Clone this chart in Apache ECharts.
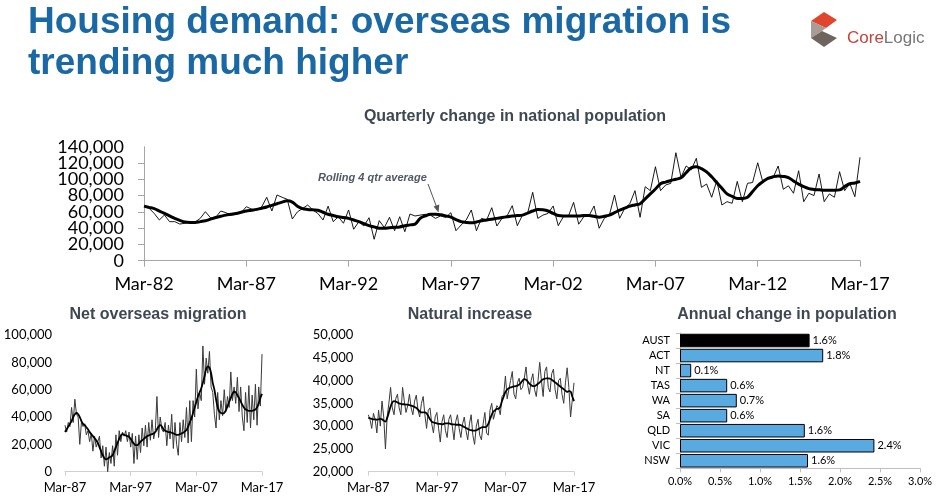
<!DOCTYPE html>
<html><head><meta charset="utf-8">
<script src="https://cdn.jsdelivr.net/npm/echarts@6/dist/echarts.min.js"></script>
<style>html,body{margin:0;padding:0;background:#fff}#c{width:944px;height:498px}</style>
</head><body><div id="c"></div><script>
// ---------- DATA ----------
const mainTitle1 = 'Housing demand: overseas migration is';
const mainTitle2 = 'trending much higher';
const topTitle = 'Quarterly change in national population';
const nomTitle = 'Net overseas migration';
const niTitle = 'Natural increase';
const barTitle = 'Annual change in population';
const annotation = 'Rolling 4 qtr average';

function quarters(y0, y1) {
  const m = ['Mar', 'Jun', 'Sep', 'Dec'], out = [];
  for (let y = y0; y <= y1; y++) for (let k = 0; k < 4; k++) {
    if (y === y1 && k > 0) break;
    out.push(m[k] + '-' + String(y % 100).padStart(2, '0'));
  }
  return out;
}
const topCats = quarters(1982, 2017);   // Mar-82 .. Mar-17
const botCats = quarters(1987, 2017);   // Mar-87 .. Mar-17

const topRaw = [
 67000,64300,58000,50000,56100,47900,48000,45000,46000,47000,
 47500,52000,60200,52800,53000,61000,59000,56000,57000,59000,
 66300,63500,62000,66000,77900,61000,80700,77900,75400,51200,
 60000,64000,68400,62300,58000,50000,67000,47900,54000,46000,
 62300,38600,47900,42600,52800,26300,49200,40700,53300,36800,
 54000,35600,57300,54900,56000,57000,56000,52000,55000,53000,
 59000,36800,43800,50000,62300,36800,52000,50000,65100,42600,
 52000,55000,67600,43000,56000,58000,84000,52000,56000,58000,
 67200,43000,54000,55000,71700,44800,54000,55000,67200,39800,
 52000,56000,80700,52000,64300,70000,86000,53300,90900,86000,
 115400,86000,93000,95000,132600,102400,116300,111600,125700,90100,
 94200,77900,98300,68400,72500,70500,97400,72500,95000,96000,
 120300,96600,100700,102000,116300,87700,92000,82800,110500,72500,
 82800,80000,106500,72500,82000,77900,109300,86000,95000,78600,
 127000];
const topTrend = [
 67000,65500,64000,61000,58000,55000,52000,49500,47500,47000,
 47000,48000,49000,51000,53000,54500,56000,57000,58000,59500,
 61000,62000,63000,64500,66000,68000,70000,72000,73500,72000,
 67000,64000,63000,62500,62000,59500,57000,55500,54000,53000,
 52000,50000,48000,45500,43000,41500,40000,40000,40500,41000,
 41500,43000,44000,45000,52000,55000,57000,57000,56500,55000,
 53500,50500,48000,47000,46500,47500,49000,50000,51000,52000,
 53000,54000,55000,55500,56000,58500,61000,63000,62500,61000,
 58000,55500,55000,55000,55000,55000,55500,55500,54500,53500,
 54500,56000,59000,62000,64500,67000,68500,70000,76000,82000,
 88000,94500,96500,98500,100000,102000,108000,114000,115500,113000,
 109000,103000,96000,89000,82000,79000,76500,76500,78000,85000,
 92000,97000,101000,103000,104000,103500,102000,98000,94000,91000,
 88500,87500,87000,86500,86500,86500,87000,91000,94500,95500,
 97500];

const nomRaw = [
 34000,29000,36000,33000,47000,36000,53000,42000,40000,20000,
 36000,33000,35000,27000,30000,22000,28000,15000,26000,18000,
 17000,26000,10000,19000,4000,18000,0,14000,6000,19000,
 4000,27000,12000,30000,22000,29000,26000,30000,22000,29000,
 18000,28000,6000,26000,9000,27000,14000,32000,19000,34000,
 18000,36000,23000,38000,24000,30000,55000,25000,40000,31000,
 29000,36000,19000,34000,24000,42000,17000,36000,20000,12000,
 36000,22000,38000,25000,47000,21000,52000,22000,52000,40000,
 75000,46000,58000,52000,92000,64000,83000,72000,88000,62000,
 58000,42000,32000,58000,38000,52000,41000,60000,44000,55000,
 47000,73000,52000,62000,50000,69000,44000,62000,40000,30000,
 58000,36000,63000,32000,56000,38000,64000,34000,62000,48000,
 86000];
const nomTrend = [
 29000,31000,33000,35000,37000,40000,42000,43000,42000,40000,
 37000,35000,34000,32500,31000,29000,27500,26000,24500,23000,
 21000,18000,15000,12000,10000,9000,9500,10500,11000,12000,
 15000,18000,21000,24000,26500,27500,27000,26500,26000,25500,
 24000,22000,20500,19500,19500,20500,22000,23000,24000,25000,
 26000,26500,27000,27500,28000,29000,31000,33000,34000,33000,
 31000,30000,29500,29000,29000,28500,28000,27500,27000,27000,
 27500,28000,28500,29500,30500,33000,36000,39000,43000,47000,
 51000,55000,58000,61000,65000,70000,75000,77000,76000,72000,
 65000,60000,53000,47000,44000,43000,42500,43000,45000,48000,
 51000,54000,57000,58500,58000,56000,54000,51500,49000,47000,
 45500,45000,44500,44500,44500,45000,45500,47000,50000,54000,
 57000];

const niRaw = [
 32500,31500,29500,32800,31500,28500,33500,30000,35500,32000,
 25000,32000,35000,38500,34000,32500,36000,37000,34000,32500,
 38500,35500,33000,34500,37000,34000,32500,35500,36800,33500,
 32000,35000,36500,32500,29500,33500,34000,30500,28500,32000,
 33000,29500,26500,31000,32500,29000,27500,31500,32500,30000,
 27000,31000,32500,29500,27500,30500,32000,29000,27000,30500,
 32500,28000,26000,30000,31500,28000,27000,30500,33000,28500,
 28000,33500,35000,31500,33000,34500,34000,32500,36500,37000,
 41000,36000,38000,40000,42000,37000,36000,39500,40500,38000,
 38500,40500,43000,39000,37000,40000,41500,38000,36500,40000,
 44000,40000,36500,42000,43000,38500,37500,41500,42500,38000,
 36000,40000,40500,37000,35000,39500,42800,38500,32000,32000,
 39500];
const niTrend = [
 31800,31700,31600,31500,31500,31400,31500,31600,31500,31200,
 31000,31800,33000,34300,35200,35500,35400,35200,35000,34900,
 34800,34800,34700,34700,34600,34500,34400,34200,34000,33600,
 33200,33000,33000,33000,32800,32200,31500,31000,30800,30700,
 30600,30500,30500,30400,30500,30600,30600,30600,30500,30400,
 30400,30300,30300,30300,30200,30000,29800,29600,29400,29200,
 29100,29000,29000,29100,29300,29500,29700,29800,29800,29900,
 30500,31500,32500,33200,33500,33800,33800,34300,35500,36500,
 37500,38000,38300,38500,38600,38700,38800,38900,39100,39500,
 40000,40300,40200,39800,39300,39000,38800,38800,39000,39300,
 39600,40000,40300,40400,40500,40500,40400,40200,39900,39600,
 39300,39000,38700,38400,38100,37800,37500,37700,37600,36500,
 35500];

const regions = ['AUST','ACT','NT','TAS','WA','SA','QLD','VIC','NSW'];
const annualChange = [1.62, 1.79, 0.14, 0.59, 0.71, 0.59, 1.56, 2.43, 1.60];

// ---------- CHART ----------
const chart = echarts.init(document.getElementById('c'), null, {renderer: 'canvas'});
const FONT = 'Lato, "Open Sans", sans-serif';
const GRAY = '#a6a6a6';
const fmtNum = v => Math.round(v).toLocaleString('en-US');
// top axis labels are split over two overlaid axes so that none is dropped for crowding
const fmtEven = v => (Math.round(v / 20000) % 2 === 0) ? fmtNum(v) : '';
const fmtOdd = v => (Math.round(v / 20000) % 2 === 1) ? fmtNum(v) : '';

function lineSeries(x, data, color, width, smooth, z) {
  return {type: 'line', xAxisIndex: x, yAxisIndex: x, data: data, symbol: 'none',
    smooth: smooth, lineStyle: {color: color, width: width}, z: z, silent: true};
}

const option = {
  animation: false,
  backgroundColor: '#fff',
  grid: [
    {left: 144, right: 84, top: 146.7, bottom: 237.3},
    {left: 65, right: 682, top: 335, bottom: 26.3},
    {left: 368.3, right: 370, top: 335, bottom: 26.3},
    {left: 680, right: 24, top: 333, bottom: 29.7}
  ],
  xAxis: [
    {type: 'category', gridIndex: 0, data: topCats, boundaryGap: false,
     axisLine: {lineStyle: {color: GRAY}},
     axisTick: {interval: 19, length: 6, lineStyle: {color: GRAY}},
     axisLabel: {interval: 19, color: '#000', fontSize: 18, fontFamily: FONT, margin: 14}},
    {type: 'category', gridIndex: 1, data: botCats, boundaryGap: false,
     axisLine: {lineStyle: {color: '#d0d0d0'}},
     axisTick: {interval: 39, length: 4, lineStyle: {color: '#d0d0d0'}},
     axisLabel: {interval: 39, color: '#000', fontSize: 13, fontFamily: FONT, margin: 10}},
    {type: 'category', gridIndex: 2, data: botCats, boundaryGap: false,
     axisLine: {lineStyle: {color: '#d0d0d0'}},
     axisTick: {interval: 39, length: 4, lineStyle: {color: '#d0d0d0'}},
     axisLabel: {interval: 39, color: '#000', fontSize: 13, fontFamily: FONT, margin: 10}},
    {type: 'value', gridIndex: 3, min: 0, max: 3, interval: 0.5, splitLine: {show: false},
     axisLine: {show: true, lineStyle: {color: '#bfbfbf'}},
     axisTick: {show: true, length: 4, lineStyle: {color: '#bfbfbf'}},
     axisLabel: {color: '#000', fontSize: 11, fontFamily: FONT, margin: 8,
                 formatter: v => v.toFixed(1) + '%'}}
  ],
  yAxis: [
    {type: 'value', gridIndex: 0, min: 0, max: 140000, interval: 20000, splitLine: {show: false},
     axisLine: {show: true, lineStyle: {color: GRAY}},
     axisTick: {show: true, length: 6, lineStyle: {color: GRAY}},
     axisLabel: {color: '#000', fontSize: 18, fontFamily: FONT, margin: 20, formatter: fmtEven,
                 showMinLabel: true, showMaxLabel: false}},
    {type: 'value', gridIndex: 1, min: 0, max: 100000, interval: 20000, splitLine: {show: false},
     axisLine: {show: false}, axisTick: {show: false},
     axisLabel: {color: '#000', fontSize: 13, fontFamily: FONT, margin: 13, formatter: fmtNum,
                 showMinLabel: true, showMaxLabel: true}},
    {type: 'value', gridIndex: 2, min: 20000, max: 50000, interval: 5000, splitLine: {show: false},
     axisLine: {show: false}, axisTick: {show: false},
     axisLabel: {color: '#000', fontSize: 13, fontFamily: FONT, margin: 15, formatter: fmtNum,
                 showMinLabel: true, showMaxLabel: true}},
    {type: 'category', gridIndex: 3, data: regions, inverse: true,
     axisLine: {show: true, lineStyle: {color: '#bfbfbf'}},
     axisTick: {show: true, length: 4, lineStyle: {color: '#bfbfbf'}},
     axisLabel: {color: '#000', fontSize: 11, fontFamily: FONT, margin: 10}},
    {type: 'value', gridIndex: 0, position: 'left', min: 0, max: 140000, interval: 20000, splitLine: {show: false},
     axisLine: {show: false}, axisTick: {show: false},
     axisLabel: {color: '#000', fontSize: 18, fontFamily: FONT, margin: 20, formatter: fmtOdd,
                 showMinLabel: false, showMaxLabel: true}}
  ],
  series: [
    lineSeries(0, topRaw, '#000', 0.9, false, 2),
    lineSeries(0, topTrend, '#000', 3, 0.4, 3),
    lineSeries(1, nomRaw, '#3a3a3a', 1, false, 2),
    lineSeries(1, nomTrend, '#000', 1.8, 0.4, 3),
    lineSeries(2, niRaw, '#3a3a3a', 1, false, 2),
    lineSeries(2, niTrend, '#000', 1.8, 0.4, 3),
    {type: 'bar', xAxisIndex: 3, yAxisIndex: 3, barCategoryGap: '10%', silent: true,
     data: annualChange.map((v, k) => ({value: v,
        itemStyle: {color: regions[k] === 'AUST' ? '#000' : '#5aaae2', borderColor: '#000', borderWidth: 1}})),
     label: {show: true, position: 'right', distance: 3, color: '#000', fontSize: 11, fontFamily: FONT,
             formatter: p => p.value.toFixed(1) + '%'}}
  ],
  graphic: [
    {type: 'text', x: 28, y: 4, style: {text: mainTitle1, fill: '#1b69a4',
      font: 'bold 37px "Liberation Sans", Arial, sans-serif', textVerticalAlign: 'top'}},
    {type: 'text', x: 28, y: 45, style: {text: mainTitle2, fill: '#1b69a4',
      font: 'bold 37px "Liberation Sans", Arial, sans-serif', textVerticalAlign: 'top'}},
    {type: 'text', x: 515, y: 117, style: {text: topTitle, fill: '#3f4752', textAlign: 'center', textVerticalAlign: 'middle',
      font: 'bold 16px "Liberation Sans", Arial, sans-serif'}},
    {type: 'text', x: 158, y: 315, style: {text: nomTitle, fill: '#3f4752', textAlign: 'center', textVerticalAlign: 'middle',
      font: 'bold 16px "Liberation Sans", Arial, sans-serif'}},
    {type: 'text', x: 470, y: 315, style: {text: niTitle, fill: '#3f4752', textAlign: 'center', textVerticalAlign: 'middle',
      font: 'bold 16px "Liberation Sans", Arial, sans-serif'}},
    {type: 'text', x: 787, y: 315, style: {text: barTitle, fill: '#3f4752', textAlign: 'center', textVerticalAlign: 'middle',
      font: 'bold 16px "Liberation Sans", Arial, sans-serif'}},
    {type: 'text', x: 318, y: 178, style: {text: annotation, fill: '#4f5864', textVerticalAlign: 'middle',
      font: 'italic bold 11px "Liberation Sans", Arial, sans-serif'}},
    {type: 'line', shape: {x1: 428, y1: 184, x2: 437, y2: 208}, style: {stroke: '#555', lineWidth: 1}},
    {type: 'polygon', shape: {points: [[438.5, 212.5], [439.3, 204.4], [433.6, 206.4]]}, style: {fill: '#555'}},
    // logo
    {type: 'polygon', shape: {points: [[811, 21], [824, 12], [837, 20], [826, 28]]}, style: {fill: '#e0452e'}},
    {type: 'polygon', shape: {points: [[811, 21], [826, 28], [822, 31], [811, 38]]}, style: {fill: '#a79d96'}},
    {type: 'polygon', shape: {points: [[811, 38], [822, 31], [837, 38], [824, 47]]}, style: {fill: '#6f645e'}},
    {type: 'text', x: 847, y: 38, style: {text: '{a|Core}{b|Logic}', textVerticalAlign: 'middle',
      rich: {a: {fill: '#c8423b', font: '17px "Liberation Sans", Arial, sans-serif'},
             b: {fill: '#777', font: '17px "Liberation Sans", Arial, sans-serif'}}}}
  ]
};
chart.setOption(option);
</script></body></html>
